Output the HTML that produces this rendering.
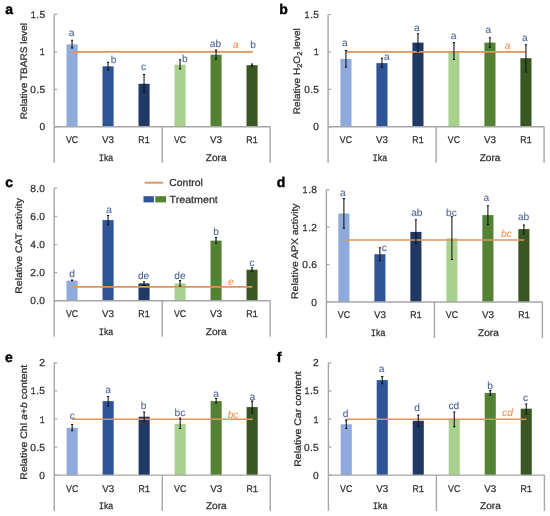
<!DOCTYPE html>
<html><head><meta charset="utf-8"><style>
html,body{margin:0;padding:0;background:#fff;}
svg{display:block;font-family:"Liberation Sans", sans-serif;text-rendering:geometricPrecision;will-change:transform;}
text{paint-order:stroke;stroke-linejoin:round;}
</style></head><body>
<svg width="550" height="516" viewBox="0 0 550 516">
<rect width="550" height="516" fill="#fff"/>
<text x="5.2" y="13.9" font-size="14" font-weight="bold" fill="#000" stroke="#000" stroke-width="0.4">a</text>
<rect x="66.50" y="44.40" width="11.1" height="82.40" fill="#8faadc"/>
<rect x="102.50" y="66.30" width="11.1" height="60.50" fill="#2f5597"/>
<rect x="138.50" y="83.80" width="11.1" height="43.00" fill="#203864"/>
<rect x="174.50" y="64.70" width="11.1" height="62.10" fill="#a9d18e"/>
<rect x="210.50" y="54.70" width="11.1" height="72.10" fill="#548235"/>
<rect x="246.50" y="65.20" width="11.1" height="61.60" fill="#385723"/>
<path d="M54.20 14.30V162.80M54.20 126.80H270.20M162.20 126.80V162.80M270.20 126.80V162.80" stroke="#a6a6a6" stroke-width="1.4" fill="none"/>
<text x="42.23" y="130.35" font-size="10.2" text-anchor="middle" fill="#2e2e2e" stroke="#2e2e2e" stroke-width="0.25">0</text>
<text x="33.18" y="92.85" font-size="10.2" text-anchor="middle" fill="#2e2e2e" stroke="#2e2e2e" stroke-width="0.25">0</text>
<text x="37.70" y="92.85" font-size="10.2" text-anchor="middle" fill="#2e2e2e" stroke="#2e2e2e" stroke-width="0.25">.</text>
<text x="42.23" y="92.85" font-size="10.2" text-anchor="middle" fill="#2e2e2e" stroke="#2e2e2e" stroke-width="0.25">5</text>
<text x="42.23" y="55.35" font-size="10.2" text-anchor="middle" fill="#2e2e2e" stroke="#2e2e2e" stroke-width="0.25" font-family="Liberation Mono" textLength="4.9" lengthAdjust="spacingAndGlyphs">1</text>
<text x="33.18" y="17.85" font-size="10.2" text-anchor="middle" fill="#2e2e2e" stroke="#2e2e2e" stroke-width="0.25" font-family="Liberation Mono" textLength="4.9" lengthAdjust="spacingAndGlyphs">1</text>
<text x="37.70" y="17.85" font-size="10.2" text-anchor="middle" fill="#2e2e2e" stroke="#2e2e2e" stroke-width="0.25">.</text>
<text x="42.23" y="17.85" font-size="10.2" text-anchor="middle" fill="#2e2e2e" stroke="#2e2e2e" stroke-width="0.25">5</text>
<path d="M54.20 126.80h3M54.20 89.30h3M54.20 51.80h3M54.20 14.30h3" stroke="#a6a6a6" stroke-width="1.2" fill="none"/>
<path d="M71.50 51.90H252.80" stroke="#df935c" stroke-width="1.65" fill="none"/>
<path d="M72.05 39.80V48.40M70.95 40.30h2.2M70.95 47.90h2.2" stroke="#111" stroke-width="1.05" fill="none"/>
<path d="M108.05 61.70V70.50M106.95 62.20h2.2M106.95 70.00h2.2" stroke="#111" stroke-width="1.05" fill="none"/>
<path d="M144.05 74.00V92.60M142.95 74.50h2.2M142.95 92.10h2.2" stroke="#111" stroke-width="1.05" fill="none"/>
<path d="M180.05 59.30V69.40M178.95 59.80h2.2M178.95 68.90h2.2" stroke="#111" stroke-width="1.05" fill="none"/>
<path d="M216.05 49.60V59.60M214.95 50.10h2.2M214.95 59.10h2.2" stroke="#111" stroke-width="1.05" fill="none"/>
<path d="M252.05 63.50V66.60M250.95 64.00h2.2M250.95 66.10h2.2" stroke="#111" stroke-width="1.05" fill="none"/>
<text x="71.50" y="35.60" font-size="10.2" text-anchor="middle" fill="#4b6293" stroke="#4b6293" stroke-width="0.08">a</text>
<text x="113.70" y="63.10" font-size="10.2" text-anchor="middle" fill="#4b6293" stroke="#4b6293" stroke-width="0.08">b</text>
<text x="143.60" y="70.00" font-size="10.2" text-anchor="middle" fill="#4b6293" stroke="#4b6293" stroke-width="0.08">c</text>
<text x="184.80" y="61.70" font-size="10.2" text-anchor="middle" fill="#4b6293" stroke="#4b6293" stroke-width="0.08">b</text>
<text x="215.50" y="47.20" font-size="10.2" text-anchor="middle" fill="#4b6293" stroke="#4b6293" stroke-width="0.08">ab</text>
<text x="253.00" y="47.90" font-size="10.2" text-anchor="middle" fill="#4b6293" stroke="#4b6293" stroke-width="0.08">b</text>
<text x="235.90" y="47.70" font-size="10.2" text-anchor="middle" fill="#ec8f50" stroke="#ec8f50" stroke-width="0.08" font-style="italic">a</text>
<text x="72.05" y="142.90" font-size="9.8" text-anchor="middle" fill="#2e2e2e" stroke="#2e2e2e" stroke-width="0.25" textLength="12.3" lengthAdjust="spacingAndGlyphs">VC</text>
<text x="108.05" y="142.90" font-size="9.8" text-anchor="middle" fill="#2e2e2e" stroke="#2e2e2e" stroke-width="0.25" textLength="12.0" lengthAdjust="spacingAndGlyphs">V3</text>
<text x="144.05" y="142.90" font-size="9.8" text-anchor="middle" fill="#2e2e2e" stroke="#2e2e2e" stroke-width="0.25" textLength="11.5" lengthAdjust="spacingAndGlyphs">R<tspan font-family="Liberation Mono">1</tspan></text>
<text x="180.05" y="142.90" font-size="9.8" text-anchor="middle" fill="#2e2e2e" stroke="#2e2e2e" stroke-width="0.25" textLength="12.3" lengthAdjust="spacingAndGlyphs">VC</text>
<text x="216.05" y="142.90" font-size="9.8" text-anchor="middle" fill="#2e2e2e" stroke="#2e2e2e" stroke-width="0.25" textLength="12.0" lengthAdjust="spacingAndGlyphs">V3</text>
<text x="252.05" y="142.90" font-size="9.8" text-anchor="middle" fill="#2e2e2e" stroke="#2e2e2e" stroke-width="0.25" textLength="11.5" lengthAdjust="spacingAndGlyphs">R<tspan font-family="Liberation Mono">1</tspan></text>
<text x="105.90" y="160.80" font-size="9.8" text-anchor="middle" fill="#2e2e2e" stroke="#2e2e2e" stroke-width="0.25" textLength="14.5" lengthAdjust="spacingAndGlyphs"><tspan font-family="Liberation Mono">I</tspan>ka</text>
<text x="216.20" y="160.80" font-size="9.8" text-anchor="middle" fill="#2e2e2e" stroke="#2e2e2e" stroke-width="0.25" textLength="20.8" lengthAdjust="spacingAndGlyphs">Zora</text>
<text transform="translate(26.9,71.1) rotate(-90)" x="0" y="0" font-size="9.5" text-anchor="middle" fill="#2e2e2e" stroke="#2e2e2e" stroke-width="0.25" textLength="96.2" lengthAdjust="spacingAndGlyphs">Relative TBARS level</text>
<text x="279.3" y="13.9" font-size="14" font-weight="bold" fill="#000" stroke="#000" stroke-width="0.4">b</text>
<rect x="340.40" y="58.90" width="11.1" height="67.90" fill="#8faadc"/>
<rect x="376.40" y="63.10" width="11.1" height="63.70" fill="#2f5597"/>
<rect x="412.40" y="42.60" width="11.1" height="84.20" fill="#203864"/>
<rect x="448.40" y="51.90" width="11.1" height="74.90" fill="#a9d18e"/>
<rect x="484.40" y="42.60" width="11.1" height="84.20" fill="#548235"/>
<rect x="520.40" y="58.20" width="11.1" height="68.60" fill="#385723"/>
<path d="M328.10 14.50V162.80M328.10 126.80H544.10M436.10 126.80V162.80M544.10 126.80V162.80" stroke="#a6a6a6" stroke-width="1.4" fill="none"/>
<text x="316.12" y="130.35" font-size="10.2" text-anchor="middle" fill="#2e2e2e" stroke="#2e2e2e" stroke-width="0.25">0</text>
<text x="307.07" y="92.92" font-size="10.2" text-anchor="middle" fill="#2e2e2e" stroke="#2e2e2e" stroke-width="0.25">0</text>
<text x="311.60" y="92.92" font-size="10.2" text-anchor="middle" fill="#2e2e2e" stroke="#2e2e2e" stroke-width="0.25">.</text>
<text x="316.12" y="92.92" font-size="10.2" text-anchor="middle" fill="#2e2e2e" stroke="#2e2e2e" stroke-width="0.25">5</text>
<text x="316.12" y="55.48" font-size="10.2" text-anchor="middle" fill="#2e2e2e" stroke="#2e2e2e" stroke-width="0.25" font-family="Liberation Mono" textLength="4.9" lengthAdjust="spacingAndGlyphs">1</text>
<text x="307.07" y="18.05" font-size="10.2" text-anchor="middle" fill="#2e2e2e" stroke="#2e2e2e" stroke-width="0.25" font-family="Liberation Mono" textLength="4.9" lengthAdjust="spacingAndGlyphs">1</text>
<text x="311.60" y="18.05" font-size="10.2" text-anchor="middle" fill="#2e2e2e" stroke="#2e2e2e" stroke-width="0.25">.</text>
<text x="316.12" y="18.05" font-size="10.2" text-anchor="middle" fill="#2e2e2e" stroke="#2e2e2e" stroke-width="0.25">5</text>
<path d="M328.10 126.80h3M328.10 89.37h3M328.10 51.93h3M328.10 14.50h3" stroke="#a6a6a6" stroke-width="1.2" fill="none"/>
<path d="M346.20 51.90H525.60" stroke="#df935c" stroke-width="1.65" fill="none"/>
<path d="M345.95 50.00V67.70M344.85 50.50h2.2M344.85 67.20h2.2" stroke="#111" stroke-width="1.05" fill="none"/>
<path d="M381.95 57.70V67.70M380.85 58.20h2.2M380.85 67.20h2.2" stroke="#111" stroke-width="1.05" fill="none"/>
<path d="M417.95 33.30V51.90M416.85 33.80h2.2M416.85 51.40h2.2" stroke="#111" stroke-width="1.05" fill="none"/>
<path d="M453.95 42.10V60.00M452.85 42.60h2.2M452.85 59.50h2.2" stroke="#111" stroke-width="1.05" fill="none"/>
<path d="M489.95 37.20V47.90M488.85 37.70h2.2M488.85 47.40h2.2" stroke="#111" stroke-width="1.05" fill="none"/>
<path d="M525.95 44.20V72.40M524.85 44.70h2.2M524.85 71.90h2.2" stroke="#111" stroke-width="1.05" fill="none"/>
<text x="344.80" y="46.10" font-size="10.2" text-anchor="middle" fill="#4b6293" stroke="#4b6293" stroke-width="0.08">a</text>
<text x="386.80" y="60.00" font-size="10.2" text-anchor="middle" fill="#4b6293" stroke="#4b6293" stroke-width="0.08">a</text>
<text x="416.90" y="30.50" font-size="10.2" text-anchor="middle" fill="#4b6293" stroke="#4b6293" stroke-width="0.08">a</text>
<text x="453.50" y="39.10" font-size="10.2" text-anchor="middle" fill="#4b6293" stroke="#4b6293" stroke-width="0.08">a</text>
<text x="488.40" y="32.80" font-size="10.2" text-anchor="middle" fill="#4b6293" stroke="#4b6293" stroke-width="0.08">a</text>
<text x="524.90" y="41.40" font-size="10.2" text-anchor="middle" fill="#4b6293" stroke="#4b6293" stroke-width="0.08">a</text>
<text x="507.70" y="48.90" font-size="10.2" text-anchor="middle" fill="#ec8f50" stroke="#ec8f50" stroke-width="0.08" font-style="italic">a</text>
<text x="345.95" y="142.90" font-size="9.8" text-anchor="middle" fill="#2e2e2e" stroke="#2e2e2e" stroke-width="0.25" textLength="12.3" lengthAdjust="spacingAndGlyphs">VC</text>
<text x="381.95" y="142.90" font-size="9.8" text-anchor="middle" fill="#2e2e2e" stroke="#2e2e2e" stroke-width="0.25" textLength="12.0" lengthAdjust="spacingAndGlyphs">V3</text>
<text x="417.95" y="142.90" font-size="9.8" text-anchor="middle" fill="#2e2e2e" stroke="#2e2e2e" stroke-width="0.25" textLength="11.5" lengthAdjust="spacingAndGlyphs">R<tspan font-family="Liberation Mono">1</tspan></text>
<text x="453.95" y="142.90" font-size="9.8" text-anchor="middle" fill="#2e2e2e" stroke="#2e2e2e" stroke-width="0.25" textLength="12.3" lengthAdjust="spacingAndGlyphs">VC</text>
<text x="489.95" y="142.90" font-size="9.8" text-anchor="middle" fill="#2e2e2e" stroke="#2e2e2e" stroke-width="0.25" textLength="12.0" lengthAdjust="spacingAndGlyphs">V3</text>
<text x="525.95" y="142.90" font-size="9.8" text-anchor="middle" fill="#2e2e2e" stroke="#2e2e2e" stroke-width="0.25" textLength="11.5" lengthAdjust="spacingAndGlyphs">R<tspan font-family="Liberation Mono">1</tspan></text>
<text x="379.80" y="160.80" font-size="9.8" text-anchor="middle" fill="#2e2e2e" stroke="#2e2e2e" stroke-width="0.25" textLength="14.5" lengthAdjust="spacingAndGlyphs"><tspan font-family="Liberation Mono">I</tspan>ka</text>
<text x="490.10" y="160.80" font-size="9.8" text-anchor="middle" fill="#2e2e2e" stroke="#2e2e2e" stroke-width="0.25" textLength="20.8" lengthAdjust="spacingAndGlyphs">Zora</text>
<text transform="translate(300.0,71.2) rotate(-90)" x="0" y="0" font-size="9.5" text-anchor="middle" fill="#2e2e2e" stroke="#2e2e2e" stroke-width="0.25" textLength="86" lengthAdjust="spacingAndGlyphs">Relative H<tspan font-size="7" dy="2">2</tspan><tspan dy="-2">O</tspan><tspan font-size="7" dy="2">2</tspan><tspan dy="-2"> level</tspan></text>
<text x="5.2" y="186.5" font-size="14" font-weight="bold" fill="#000" stroke="#000" stroke-width="0.4">c</text>
<rect x="66.50" y="280.60" width="11.1" height="20.20" fill="#8faadc"/>
<rect x="102.50" y="220.10" width="11.1" height="80.70" fill="#2f5597"/>
<rect x="138.50" y="283.40" width="11.1" height="17.40" fill="#203864"/>
<rect x="174.50" y="283.40" width="11.1" height="17.40" fill="#a9d18e"/>
<rect x="210.50" y="240.60" width="11.1" height="60.20" fill="#548235"/>
<rect x="246.50" y="269.70" width="11.1" height="31.10" fill="#385723"/>
<path d="M54.20 188.20V336.80M54.20 300.80H270.20M162.20 300.80V336.80M270.20 300.80V336.80" stroke="#a6a6a6" stroke-width="1.4" fill="none"/>
<text x="33.08" y="304.35" font-size="10.2" text-anchor="middle" fill="#2e2e2e" stroke="#2e2e2e" stroke-width="0.25">0</text>
<text x="37.60" y="304.35" font-size="10.2" text-anchor="middle" fill="#2e2e2e" stroke="#2e2e2e" stroke-width="0.25">.</text>
<text x="42.13" y="304.35" font-size="10.2" text-anchor="middle" fill="#2e2e2e" stroke="#2e2e2e" stroke-width="0.25">0</text>
<text x="33.08" y="276.20" font-size="10.2" text-anchor="middle" fill="#2e2e2e" stroke="#2e2e2e" stroke-width="0.25">2</text>
<text x="37.60" y="276.20" font-size="10.2" text-anchor="middle" fill="#2e2e2e" stroke="#2e2e2e" stroke-width="0.25">.</text>
<text x="42.13" y="276.20" font-size="10.2" text-anchor="middle" fill="#2e2e2e" stroke="#2e2e2e" stroke-width="0.25">0</text>
<text x="33.08" y="248.05" font-size="10.2" text-anchor="middle" fill="#2e2e2e" stroke="#2e2e2e" stroke-width="0.25">4</text>
<text x="37.60" y="248.05" font-size="10.2" text-anchor="middle" fill="#2e2e2e" stroke="#2e2e2e" stroke-width="0.25">.</text>
<text x="42.13" y="248.05" font-size="10.2" text-anchor="middle" fill="#2e2e2e" stroke="#2e2e2e" stroke-width="0.25">0</text>
<text x="33.08" y="219.90" font-size="10.2" text-anchor="middle" fill="#2e2e2e" stroke="#2e2e2e" stroke-width="0.25">6</text>
<text x="37.60" y="219.90" font-size="10.2" text-anchor="middle" fill="#2e2e2e" stroke="#2e2e2e" stroke-width="0.25">.</text>
<text x="42.13" y="219.90" font-size="10.2" text-anchor="middle" fill="#2e2e2e" stroke="#2e2e2e" stroke-width="0.25">0</text>
<text x="33.08" y="191.75" font-size="10.2" text-anchor="middle" fill="#2e2e2e" stroke="#2e2e2e" stroke-width="0.25">8</text>
<text x="37.60" y="191.75" font-size="10.2" text-anchor="middle" fill="#2e2e2e" stroke="#2e2e2e" stroke-width="0.25">.</text>
<text x="42.13" y="191.75" font-size="10.2" text-anchor="middle" fill="#2e2e2e" stroke="#2e2e2e" stroke-width="0.25">0</text>
<path d="M54.20 300.80h3M54.20 272.65h3M54.20 244.50h3M54.20 216.35h3M54.20 188.20h3" stroke="#a6a6a6" stroke-width="1.2" fill="none"/>
<path d="M72.20 286.90H252.30" stroke="#df935c" stroke-width="1.65" fill="none"/>
<path d="M72.05 279.40V281.30M70.95 279.90h2.2M70.95 280.80h2.2" stroke="#111" stroke-width="1.05" fill="none"/>
<path d="M108.05 215.00V225.20M106.95 215.50h2.2M106.95 224.70h2.2" stroke="#111" stroke-width="1.05" fill="none"/>
<path d="M144.05 281.30V285.70M142.95 281.80h2.2M142.95 285.20h2.2" stroke="#111" stroke-width="1.05" fill="none"/>
<path d="M180.05 280.10V286.40M178.95 280.60h2.2M178.95 285.90h2.2" stroke="#111" stroke-width="1.05" fill="none"/>
<path d="M216.05 237.10V243.80M214.95 237.60h2.2M214.95 243.30h2.2" stroke="#111" stroke-width="1.05" fill="none"/>
<path d="M252.05 267.30V271.80M250.95 267.80h2.2M250.95 271.30h2.2" stroke="#111" stroke-width="1.05" fill="none"/>
<text x="72.20" y="276.60" font-size="10.2" text-anchor="middle" fill="#4b6293" stroke="#4b6293" stroke-width="0.08">d</text>
<text x="109.20" y="213.10" font-size="10.2" text-anchor="middle" fill="#4b6293" stroke="#4b6293" stroke-width="0.08">a</text>
<text x="143.60" y="279.40" font-size="10.2" text-anchor="middle" fill="#4b6293" stroke="#4b6293" stroke-width="0.08">de</text>
<text x="179.90" y="279.40" font-size="10.2" text-anchor="middle" fill="#4b6293" stroke="#4b6293" stroke-width="0.08">de</text>
<text x="216.00" y="235.20" font-size="10.2" text-anchor="middle" fill="#4b6293" stroke="#4b6293" stroke-width="0.08">b</text>
<text x="252.10" y="265.90" font-size="10.2" text-anchor="middle" fill="#4b6293" stroke="#4b6293" stroke-width="0.08">c</text>
<text x="230.90" y="284.60" font-size="10.2" text-anchor="middle" fill="#ec8f50" stroke="#ec8f50" stroke-width="0.08" font-style="italic">e</text>
<text x="72.05" y="316.90" font-size="9.8" text-anchor="middle" fill="#2e2e2e" stroke="#2e2e2e" stroke-width="0.25" textLength="12.3" lengthAdjust="spacingAndGlyphs">VC</text>
<text x="108.05" y="316.90" font-size="9.8" text-anchor="middle" fill="#2e2e2e" stroke="#2e2e2e" stroke-width="0.25" textLength="12.0" lengthAdjust="spacingAndGlyphs">V3</text>
<text x="144.05" y="316.90" font-size="9.8" text-anchor="middle" fill="#2e2e2e" stroke="#2e2e2e" stroke-width="0.25" textLength="11.5" lengthAdjust="spacingAndGlyphs">R<tspan font-family="Liberation Mono">1</tspan></text>
<text x="180.05" y="316.90" font-size="9.8" text-anchor="middle" fill="#2e2e2e" stroke="#2e2e2e" stroke-width="0.25" textLength="12.3" lengthAdjust="spacingAndGlyphs">VC</text>
<text x="216.05" y="316.90" font-size="9.8" text-anchor="middle" fill="#2e2e2e" stroke="#2e2e2e" stroke-width="0.25" textLength="12.0" lengthAdjust="spacingAndGlyphs">V3</text>
<text x="252.05" y="316.90" font-size="9.8" text-anchor="middle" fill="#2e2e2e" stroke="#2e2e2e" stroke-width="0.25" textLength="11.5" lengthAdjust="spacingAndGlyphs">R<tspan font-family="Liberation Mono">1</tspan></text>
<text x="105.90" y="334.80" font-size="9.8" text-anchor="middle" fill="#2e2e2e" stroke="#2e2e2e" stroke-width="0.25" textLength="14.5" lengthAdjust="spacingAndGlyphs"><tspan font-family="Liberation Mono">I</tspan>ka</text>
<text x="216.20" y="334.80" font-size="9.8" text-anchor="middle" fill="#2e2e2e" stroke="#2e2e2e" stroke-width="0.25" textLength="20.8" lengthAdjust="spacingAndGlyphs">Zora</text>
<text transform="translate(22.2,245.9) rotate(-90)" x="0" y="0" font-size="9.5" text-anchor="middle" fill="#2e2e2e" stroke="#2e2e2e" stroke-width="0.25" textLength="95.7" lengthAdjust="spacingAndGlyphs">Relative CAT activity</text>
<text x="276.8" y="186.5" font-size="14" font-weight="bold" fill="#000" stroke="#000" stroke-width="0.4">d</text>
<rect x="338.35" y="213.50" width="11.1" height="88.50" fill="#8faadc"/>
<rect x="374.35" y="254.20" width="11.1" height="47.80" fill="#2f5597"/>
<rect x="410.35" y="231.90" width="11.1" height="70.10" fill="#203864"/>
<rect x="446.35" y="238.40" width="11.1" height="63.60" fill="#a9d18e"/>
<rect x="482.35" y="215.10" width="11.1" height="86.90" fill="#548235"/>
<rect x="518.35" y="229.10" width="11.1" height="72.90" fill="#385723"/>
<path d="M326.40 189.80V338.00M326.40 302.00H542.40M434.40 302.00V338.00M542.40 302.00V338.00" stroke="#a6a6a6" stroke-width="1.4" fill="none"/>
<text x="314.12" y="305.55" font-size="10.2" text-anchor="middle" fill="#2e2e2e" stroke="#2e2e2e" stroke-width="0.25">0</text>
<text x="305.07" y="268.15" font-size="10.2" text-anchor="middle" fill="#2e2e2e" stroke="#2e2e2e" stroke-width="0.25">0</text>
<text x="309.60" y="268.15" font-size="10.2" text-anchor="middle" fill="#2e2e2e" stroke="#2e2e2e" stroke-width="0.25">.</text>
<text x="314.12" y="268.15" font-size="10.2" text-anchor="middle" fill="#2e2e2e" stroke="#2e2e2e" stroke-width="0.25">6</text>
<text x="305.07" y="230.75" font-size="10.2" text-anchor="middle" fill="#2e2e2e" stroke="#2e2e2e" stroke-width="0.25" font-family="Liberation Mono" textLength="4.9" lengthAdjust="spacingAndGlyphs">1</text>
<text x="309.60" y="230.75" font-size="10.2" text-anchor="middle" fill="#2e2e2e" stroke="#2e2e2e" stroke-width="0.25">.</text>
<text x="314.12" y="230.75" font-size="10.2" text-anchor="middle" fill="#2e2e2e" stroke="#2e2e2e" stroke-width="0.25">2</text>
<text x="305.07" y="193.35" font-size="10.2" text-anchor="middle" fill="#2e2e2e" stroke="#2e2e2e" stroke-width="0.25" font-family="Liberation Mono" textLength="4.9" lengthAdjust="spacingAndGlyphs">1</text>
<text x="309.60" y="193.35" font-size="10.2" text-anchor="middle" fill="#2e2e2e" stroke="#2e2e2e" stroke-width="0.25">.</text>
<text x="314.12" y="193.35" font-size="10.2" text-anchor="middle" fill="#2e2e2e" stroke="#2e2e2e" stroke-width="0.25">8</text>
<path d="M326.40 302.00h3M326.40 264.60h3M326.40 227.20h3M326.40 189.80h3" stroke="#a6a6a6" stroke-width="1.2" fill="none"/>
<path d="M343.50 240.00H524.30" stroke="#df935c" stroke-width="1.65" fill="none"/>
<path d="M343.90 198.10V228.60M342.80 198.60h2.2M342.80 228.10h2.2" stroke="#111" stroke-width="1.05" fill="none"/>
<path d="M379.90 247.20V261.20M378.80 247.70h2.2M378.80 260.70h2.2" stroke="#111" stroke-width="1.05" fill="none"/>
<path d="M415.90 219.30V244.20M414.80 219.80h2.2M414.80 243.70h2.2" stroke="#111" stroke-width="1.05" fill="none"/>
<path d="M451.90 216.30V260.00M450.80 216.80h2.2M450.80 259.50h2.2" stroke="#111" stroke-width="1.05" fill="none"/>
<path d="M487.90 205.30V225.10M486.80 205.80h2.2M486.80 224.60h2.2" stroke="#111" stroke-width="1.05" fill="none"/>
<path d="M523.90 224.40V234.40M522.80 224.90h2.2M522.80 233.90h2.2" stroke="#111" stroke-width="1.05" fill="none"/>
<text x="342.80" y="195.80" font-size="10.2" text-anchor="middle" fill="#4b6293" stroke="#4b6293" stroke-width="0.08">a</text>
<text x="384.40" y="250.50" font-size="10.2" text-anchor="middle" fill="#4b6293" stroke="#4b6293" stroke-width="0.08">c</text>
<text x="416.80" y="215.80" font-size="10.2" text-anchor="middle" fill="#4b6293" stroke="#4b6293" stroke-width="0.08">ab</text>
<text x="451.50" y="215.80" font-size="10.2" text-anchor="middle" fill="#4b6293" stroke="#4b6293" stroke-width="0.08">bc</text>
<text x="486.40" y="201.10" font-size="10.2" text-anchor="middle" fill="#4b6293" stroke="#4b6293" stroke-width="0.08">a</text>
<text x="523.60" y="220.20" font-size="10.2" text-anchor="middle" fill="#4b6293" stroke="#4b6293" stroke-width="0.08">ab</text>
<text x="506.50" y="236.50" font-size="10.2" text-anchor="middle" fill="#ec8f50" stroke="#ec8f50" stroke-width="0.08" font-style="italic">bc</text>
<text x="343.90" y="318.10" font-size="9.8" text-anchor="middle" fill="#2e2e2e" stroke="#2e2e2e" stroke-width="0.25" textLength="12.3" lengthAdjust="spacingAndGlyphs">VC</text>
<text x="379.90" y="318.10" font-size="9.8" text-anchor="middle" fill="#2e2e2e" stroke="#2e2e2e" stroke-width="0.25" textLength="12.0" lengthAdjust="spacingAndGlyphs">V3</text>
<text x="415.90" y="318.10" font-size="9.8" text-anchor="middle" fill="#2e2e2e" stroke="#2e2e2e" stroke-width="0.25" textLength="11.5" lengthAdjust="spacingAndGlyphs">R<tspan font-family="Liberation Mono">1</tspan></text>
<text x="451.90" y="318.10" font-size="9.8" text-anchor="middle" fill="#2e2e2e" stroke="#2e2e2e" stroke-width="0.25" textLength="12.3" lengthAdjust="spacingAndGlyphs">VC</text>
<text x="487.90" y="318.10" font-size="9.8" text-anchor="middle" fill="#2e2e2e" stroke="#2e2e2e" stroke-width="0.25" textLength="12.0" lengthAdjust="spacingAndGlyphs">V3</text>
<text x="523.90" y="318.10" font-size="9.8" text-anchor="middle" fill="#2e2e2e" stroke="#2e2e2e" stroke-width="0.25" textLength="11.5" lengthAdjust="spacingAndGlyphs">R<tspan font-family="Liberation Mono">1</tspan></text>
<text x="378.10" y="336.00" font-size="9.8" text-anchor="middle" fill="#2e2e2e" stroke="#2e2e2e" stroke-width="0.25" textLength="14.5" lengthAdjust="spacingAndGlyphs"><tspan font-family="Liberation Mono">I</tspan>ka</text>
<text x="488.40" y="336.00" font-size="9.8" text-anchor="middle" fill="#2e2e2e" stroke="#2e2e2e" stroke-width="0.25" textLength="20.8" lengthAdjust="spacingAndGlyphs">Zora</text>
<text transform="translate(297.6,251.2) rotate(-90)" x="0" y="0" font-size="9.5" text-anchor="middle" fill="#2e2e2e" stroke="#2e2e2e" stroke-width="0.25" textLength="95.5" lengthAdjust="spacingAndGlyphs">Relative APX activity</text>
<text x="4.9" y="361.9" font-size="14" font-weight="bold" fill="#000" stroke="#000" stroke-width="0.4">e</text>
<rect x="66.60" y="427.80" width="11.1" height="47.30" fill="#8faadc"/>
<rect x="102.60" y="401.10" width="11.1" height="74.00" fill="#2f5597"/>
<rect x="138.60" y="416.70" width="11.1" height="58.40" fill="#203864"/>
<rect x="174.60" y="423.90" width="11.1" height="51.20" fill="#a9d18e"/>
<rect x="210.60" y="401.10" width="11.1" height="74.00" fill="#548235"/>
<rect x="246.60" y="407.10" width="11.1" height="68.00" fill="#385723"/>
<path d="M54.30 362.80V511.10M54.30 475.10H270.30M162.30 475.10V511.10M270.30 475.10V511.10" stroke="#a6a6a6" stroke-width="1.4" fill="none"/>
<text x="42.12" y="478.65" font-size="10.2" text-anchor="middle" fill="#2e2e2e" stroke="#2e2e2e" stroke-width="0.25">0</text>
<text x="33.08" y="450.58" font-size="10.2" text-anchor="middle" fill="#2e2e2e" stroke="#2e2e2e" stroke-width="0.25">0</text>
<text x="37.60" y="450.58" font-size="10.2" text-anchor="middle" fill="#2e2e2e" stroke="#2e2e2e" stroke-width="0.25">.</text>
<text x="42.13" y="450.58" font-size="10.2" text-anchor="middle" fill="#2e2e2e" stroke="#2e2e2e" stroke-width="0.25">5</text>
<text x="42.12" y="422.50" font-size="10.2" text-anchor="middle" fill="#2e2e2e" stroke="#2e2e2e" stroke-width="0.25" font-family="Liberation Mono" textLength="4.9" lengthAdjust="spacingAndGlyphs">1</text>
<text x="33.08" y="394.43" font-size="10.2" text-anchor="middle" fill="#2e2e2e" stroke="#2e2e2e" stroke-width="0.25" font-family="Liberation Mono" textLength="4.9" lengthAdjust="spacingAndGlyphs">1</text>
<text x="37.60" y="394.43" font-size="10.2" text-anchor="middle" fill="#2e2e2e" stroke="#2e2e2e" stroke-width="0.25">.</text>
<text x="42.13" y="394.43" font-size="10.2" text-anchor="middle" fill="#2e2e2e" stroke="#2e2e2e" stroke-width="0.25">5</text>
<text x="42.12" y="366.35" font-size="10.2" text-anchor="middle" fill="#2e2e2e" stroke="#2e2e2e" stroke-width="0.25">2</text>
<path d="M54.30 475.10h3M54.30 447.03h3M54.30 418.95h3M54.30 390.88h3M54.30 362.80h3" stroke="#a6a6a6" stroke-width="1.2" fill="none"/>
<path d="M72.60 419.20H252.80" stroke="#df935c" stroke-width="1.65" fill="none"/>
<path d="M72.15 423.90V431.30M71.05 424.40h2.2M71.05 430.80h2.2" stroke="#111" stroke-width="1.05" fill="none"/>
<path d="M108.15 396.00V406.40M107.05 396.50h2.2M107.05 405.90h2.2" stroke="#111" stroke-width="1.05" fill="none"/>
<path d="M144.15 411.50V421.50M143.05 412.00h2.2M143.05 421.00h2.2" stroke="#111" stroke-width="1.05" fill="none"/>
<path d="M180.15 417.40V429.00M179.05 417.90h2.2M179.05 428.50h2.2" stroke="#111" stroke-width="1.05" fill="none"/>
<path d="M216.15 398.00V403.40M215.05 398.50h2.2M215.05 402.90h2.2" stroke="#111" stroke-width="1.05" fill="none"/>
<path d="M252.15 400.60V413.40M251.05 401.10h2.2M251.05 412.90h2.2" stroke="#111" stroke-width="1.05" fill="none"/>
<text x="72.20" y="419.00" font-size="10.2" text-anchor="middle" fill="#4b6293" stroke="#4b6293" stroke-width="0.08">c</text>
<text x="108.00" y="393.40" font-size="10.2" text-anchor="middle" fill="#4b6293" stroke="#4b6293" stroke-width="0.08">a</text>
<text x="143.60" y="408.70" font-size="10.2" text-anchor="middle" fill="#4b6293" stroke="#4b6293" stroke-width="0.08">b</text>
<text x="179.90" y="416.20" font-size="10.2" text-anchor="middle" fill="#4b6293" stroke="#4b6293" stroke-width="0.08">bc</text>
<text x="216.00" y="396.90" font-size="10.2" text-anchor="middle" fill="#4b6293" stroke="#4b6293" stroke-width="0.08">a</text>
<text x="252.30" y="399.90" font-size="10.2" text-anchor="middle" fill="#4b6293" stroke="#4b6293" stroke-width="0.08">a</text>
<text x="233.10" y="417.90" font-size="10.2" text-anchor="middle" fill="#ec8f50" stroke="#ec8f50" stroke-width="0.08" font-style="italic">bc</text>
<text x="72.15" y="491.70" font-size="9.8" text-anchor="middle" fill="#2e2e2e" stroke="#2e2e2e" stroke-width="0.25" textLength="12.3" lengthAdjust="spacingAndGlyphs">VC</text>
<text x="108.15" y="491.70" font-size="9.8" text-anchor="middle" fill="#2e2e2e" stroke="#2e2e2e" stroke-width="0.25" textLength="12.0" lengthAdjust="spacingAndGlyphs">V3</text>
<text x="144.15" y="491.70" font-size="9.8" text-anchor="middle" fill="#2e2e2e" stroke="#2e2e2e" stroke-width="0.25" textLength="11.5" lengthAdjust="spacingAndGlyphs">R<tspan font-family="Liberation Mono">1</tspan></text>
<text x="180.15" y="491.70" font-size="9.8" text-anchor="middle" fill="#2e2e2e" stroke="#2e2e2e" stroke-width="0.25" textLength="12.3" lengthAdjust="spacingAndGlyphs">VC</text>
<text x="216.15" y="491.70" font-size="9.8" text-anchor="middle" fill="#2e2e2e" stroke="#2e2e2e" stroke-width="0.25" textLength="12.0" lengthAdjust="spacingAndGlyphs">V3</text>
<text x="252.15" y="491.70" font-size="9.8" text-anchor="middle" fill="#2e2e2e" stroke="#2e2e2e" stroke-width="0.25" textLength="11.5" lengthAdjust="spacingAndGlyphs">R<tspan font-family="Liberation Mono">1</tspan></text>
<text x="106.00" y="509.10" font-size="9.8" text-anchor="middle" fill="#2e2e2e" stroke="#2e2e2e" stroke-width="0.25" textLength="14.5" lengthAdjust="spacingAndGlyphs"><tspan font-family="Liberation Mono">I</tspan>ka</text>
<text x="216.30" y="509.10" font-size="9.8" text-anchor="middle" fill="#2e2e2e" stroke="#2e2e2e" stroke-width="0.25" textLength="20.8" lengthAdjust="spacingAndGlyphs">Zora</text>
<text transform="translate(27.0,422.2) rotate(-90)" x="0" y="0" font-size="9.5" text-anchor="middle" fill="#2e2e2e" stroke="#2e2e2e" stroke-width="0.25" textLength="115" lengthAdjust="spacingAndGlyphs">Relative Chl <tspan font-style="italic">a</tspan>+<tspan font-style="italic">b</tspan> content</text>
<text x="276.8" y="361.8" font-size="14" font-weight="bold" fill="#000" stroke="#000" stroke-width="0.4">f</text>
<rect x="340.70" y="424.30" width="11.1" height="50.80" fill="#8faadc"/>
<rect x="376.70" y="380.10" width="11.1" height="95.00" fill="#2f5597"/>
<rect x="412.70" y="420.80" width="11.1" height="54.30" fill="#203864"/>
<rect x="448.70" y="419.20" width="11.1" height="55.90" fill="#a9d18e"/>
<rect x="484.70" y="392.90" width="11.1" height="82.20" fill="#548235"/>
<rect x="520.70" y="408.70" width="11.1" height="66.40" fill="#385723"/>
<path d="M328.40 362.80V511.10M328.40 475.10H544.40M436.40 475.10V511.10M544.40 475.10V511.10" stroke="#a6a6a6" stroke-width="1.4" fill="none"/>
<text x="315.93" y="478.65" font-size="10.2" text-anchor="middle" fill="#2e2e2e" stroke="#2e2e2e" stroke-width="0.25">0</text>
<text x="306.88" y="450.58" font-size="10.2" text-anchor="middle" fill="#2e2e2e" stroke="#2e2e2e" stroke-width="0.25">0</text>
<text x="311.40" y="450.58" font-size="10.2" text-anchor="middle" fill="#2e2e2e" stroke="#2e2e2e" stroke-width="0.25">.</text>
<text x="315.93" y="450.58" font-size="10.2" text-anchor="middle" fill="#2e2e2e" stroke="#2e2e2e" stroke-width="0.25">5</text>
<text x="315.93" y="422.50" font-size="10.2" text-anchor="middle" fill="#2e2e2e" stroke="#2e2e2e" stroke-width="0.25" font-family="Liberation Mono" textLength="4.9" lengthAdjust="spacingAndGlyphs">1</text>
<text x="306.88" y="394.43" font-size="10.2" text-anchor="middle" fill="#2e2e2e" stroke="#2e2e2e" stroke-width="0.25" font-family="Liberation Mono" textLength="4.9" lengthAdjust="spacingAndGlyphs">1</text>
<text x="311.40" y="394.43" font-size="10.2" text-anchor="middle" fill="#2e2e2e" stroke="#2e2e2e" stroke-width="0.25">.</text>
<text x="315.93" y="394.43" font-size="10.2" text-anchor="middle" fill="#2e2e2e" stroke="#2e2e2e" stroke-width="0.25">5</text>
<text x="315.93" y="366.35" font-size="10.2" text-anchor="middle" fill="#2e2e2e" stroke="#2e2e2e" stroke-width="0.25">2</text>
<path d="M328.40 475.10h3M328.40 447.03h3M328.40 418.95h3M328.40 390.88h3M328.40 362.80h3" stroke="#a6a6a6" stroke-width="1.2" fill="none"/>
<path d="M345.50 419.20H526.30" stroke="#df935c" stroke-width="1.65" fill="none"/>
<path d="M346.25 419.70V429.00M345.15 420.20h2.2M345.15 428.50h2.2" stroke="#111" stroke-width="1.05" fill="none"/>
<path d="M382.25 375.90V384.10M381.15 376.40h2.2M381.15 383.60h2.2" stroke="#111" stroke-width="1.05" fill="none"/>
<path d="M418.25 414.60V426.70M417.15 415.10h2.2M417.15 426.20h2.2" stroke="#111" stroke-width="1.05" fill="none"/>
<path d="M454.25 411.50V427.10M453.15 412.00h2.2M453.15 426.60h2.2" stroke="#111" stroke-width="1.05" fill="none"/>
<path d="M490.25 390.10V395.70M489.15 390.60h2.2M489.15 395.20h2.2" stroke="#111" stroke-width="1.05" fill="none"/>
<path d="M526.25 403.40V414.60M525.15 403.90h2.2M525.15 414.10h2.2" stroke="#111" stroke-width="1.05" fill="none"/>
<text x="345.50" y="416.90" font-size="10.2" text-anchor="middle" fill="#4b6293" stroke="#4b6293" stroke-width="0.08">d</text>
<text x="381.50" y="372.40" font-size="10.2" text-anchor="middle" fill="#4b6293" stroke="#4b6293" stroke-width="0.08">a</text>
<text x="417.20" y="411.10" font-size="10.2" text-anchor="middle" fill="#4b6293" stroke="#4b6293" stroke-width="0.08">d</text>
<text x="453.90" y="409.20" font-size="10.2" text-anchor="middle" fill="#4b6293" stroke="#4b6293" stroke-width="0.08">cd</text>
<text x="490.00" y="389.00" font-size="10.2" text-anchor="middle" fill="#4b6293" stroke="#4b6293" stroke-width="0.08">b</text>
<text x="525.60" y="401.10" font-size="10.2" text-anchor="middle" fill="#4b6293" stroke="#4b6293" stroke-width="0.08">c</text>
<text x="507.50" y="416.20" font-size="10.2" text-anchor="middle" fill="#ec8f50" stroke="#ec8f50" stroke-width="0.08" font-style="italic">cd</text>
<text x="346.25" y="491.70" font-size="9.8" text-anchor="middle" fill="#2e2e2e" stroke="#2e2e2e" stroke-width="0.25" textLength="12.3" lengthAdjust="spacingAndGlyphs">VC</text>
<text x="382.25" y="491.70" font-size="9.8" text-anchor="middle" fill="#2e2e2e" stroke="#2e2e2e" stroke-width="0.25" textLength="12.0" lengthAdjust="spacingAndGlyphs">V3</text>
<text x="418.25" y="491.70" font-size="9.8" text-anchor="middle" fill="#2e2e2e" stroke="#2e2e2e" stroke-width="0.25" textLength="11.5" lengthAdjust="spacingAndGlyphs">R<tspan font-family="Liberation Mono">1</tspan></text>
<text x="454.25" y="491.70" font-size="9.8" text-anchor="middle" fill="#2e2e2e" stroke="#2e2e2e" stroke-width="0.25" textLength="12.3" lengthAdjust="spacingAndGlyphs">VC</text>
<text x="490.25" y="491.70" font-size="9.8" text-anchor="middle" fill="#2e2e2e" stroke="#2e2e2e" stroke-width="0.25" textLength="12.0" lengthAdjust="spacingAndGlyphs">V3</text>
<text x="526.25" y="491.70" font-size="9.8" text-anchor="middle" fill="#2e2e2e" stroke="#2e2e2e" stroke-width="0.25" textLength="11.5" lengthAdjust="spacingAndGlyphs">R<tspan font-family="Liberation Mono">1</tspan></text>
<text x="380.10" y="509.10" font-size="9.8" text-anchor="middle" fill="#2e2e2e" stroke="#2e2e2e" stroke-width="0.25" textLength="14.5" lengthAdjust="spacingAndGlyphs"><tspan font-family="Liberation Mono">I</tspan>ka</text>
<text x="490.40" y="509.10" font-size="9.8" text-anchor="middle" fill="#2e2e2e" stroke="#2e2e2e" stroke-width="0.25" textLength="20.8" lengthAdjust="spacingAndGlyphs">Zora</text>
<text transform="translate(300.6,419.0) rotate(-90)" x="0" y="0" font-size="9.5" text-anchor="middle" fill="#2e2e2e" stroke="#2e2e2e" stroke-width="0.25" textLength="95.5" lengthAdjust="spacingAndGlyphs">Relative Car content</text>
<path d="M144.6 182.7H163.2" stroke="#df935c" stroke-width="1.9"/>
<text x="169.30" y="186.30" font-size="10.2" text-anchor="start" fill="#2e2e2e" stroke="#2e2e2e" stroke-width="0.25" textLength="33.6" lengthAdjust="spacingAndGlyphs">Control</text>
<rect x="143.5" y="196.2" width="10.4" height="6.2" fill="#2f5597"/>
<rect x="155.3" y="196.2" width="10.7" height="6.2" fill="#548235"/>
<text x="169.50" y="202.60" font-size="10.2" text-anchor="start" fill="#2e2e2e" stroke="#2e2e2e" stroke-width="0.25" textLength="48.3" lengthAdjust="spacingAndGlyphs">Treatment</text>
</svg>
</body></html>
